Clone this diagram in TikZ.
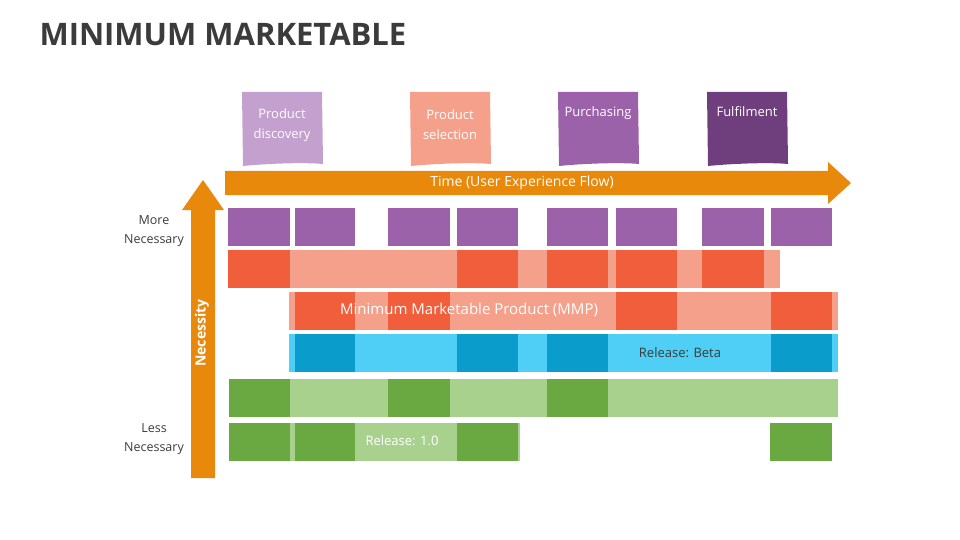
\documentclass[tikz,border=0pt]{standalone}
\usepackage{fontspec}
\setmainfont{Open Sans}
\definecolor{lpur}{HTML}{C4A0CE}
\definecolor{salm}{HTML}{F4A08A}
\definecolor{pur}{HTML}{9B62AA}
\definecolor{dpur}{HTML}{6E3F7C}
\definecolor{org}{HTML}{E8890C}
\definecolor{red}{HTML}{F15E3C}
\definecolor{lblue}{HTML}{4FCFF5}
\definecolor{dblue}{HTML}{0A9CCB}
\definecolor{lgreen}{HTML}{A9D18E}
\definecolor{dgreen}{HTML}{6AA842}
\definecolor{ttl}{HTML}{3B3B3B}
\begin{document}
\begin{tikzpicture}[x=1pt,y=-1pt,
  note/.style={text=white,font=\fontsize{13}{20}\selectfont,align=center},
  lbl/.style={text=ttl,font=\fontsize{12.5}{19}\selectfont,align=center}]
\useasboundingbox (0,0) rectangle (960,540);
\node[anchor=west,text=ttl,font=\bfseries\fontsize{31}{36}\selectfont] (title) at (36,35) {MINIMUM MARKETABLE};
\newcommand\sticky[5]{\fill[#3] (#1,#2) -- (#1+80,#2) -- (#1+81,#2+72) .. controls (#1+60,#2+70) and (#1+20,#2+72) .. (#1+1,#2+74) -- cycle;
 \node[note] (#5) at (#1+40,#2+33) {#4};}
\sticky{242}{92}{lpur}{Product\\discovery}{n1}
\sticky{410}{92}{salm}{Product\\selection}{n2}
\sticky{558}{92}{pur}{Purchasing\\\strut}{n3}
\sticky{707}{92}{dpur}{Fulfilment\\\strut}{n4}
\fill[org] (225,171) -- (828,171) -- (828,162) -- (851,183) -- (828,204) -- (828,195) -- (225,195) -- cycle;
\node[text=white,font=\fontsize{14}{16}\selectfont] (time) at (522,183) {Time (User Experience Flow)};
\fill[org] (191,478) -- (191,210) -- (182,210) -- (203,180) -- (224,210) -- (215,210) -- (215,478) -- cycle;
\node[rotate=90,text=white,font=\bfseries\fontsize{14}{16}\selectfont] (nec) at (202,333) {Necessity};
\node[lbl] (more) at (154,231) {More\\Necessary};
\node[lbl] (less) at (154,439) {Less\\Necessary};
\newcommand\bx[4]{\fill[#4] (#1,#2) rectangle (#3,#2+38);}
\foreach \a/\b in {228/290,295/355,388/450,457/518,547/608,616/677,702/764,771/832}{\bx{\a}{208}{\b}{pur}}
\bx{228}{250}{780}{salm}
\foreach \a/\b in {228/290,457/518,547/608,616/677,702/764}{\bx{\a}{250}{\b}{red}}
\bx{289}{292}{838}{salm}
\foreach \a/\b in {295/355,388/450,616/677,771/832}{\bx{\a}{292}{\b}{red}}
\node[text=white,font=\fontsize{15}{16}\selectfont] (mmp) at (469,310) {Minimum Marketable Product (MMP)};
\bx{289}{334}{838}{lblue}
\foreach \a/\b in {295/355,457/518,547/608,771/832}{\bx{\a}{334}{\b}{dblue}}
\node[text=ttl,font=\fontsize{13}{16}\selectfont] (beta) at (680,353) {Release: Beta};
\bx{229}{379}{838}{lgreen}
\foreach \a/\b in {229/290,388/450,547/608}{\bx{\a}{379}{\b}{dgreen}}
\bx{229}{423}{520}{lgreen}
\foreach \a/\b in {229/290,295/355,457/518,770/832}{\bx{\a}{423}{\b}{dgreen}}
\node[text=white,font=\fontsize{13}{16}\selectfont] (rel) at (402,441) {Release: 1.0};
\end{tikzpicture}
\end{document}
